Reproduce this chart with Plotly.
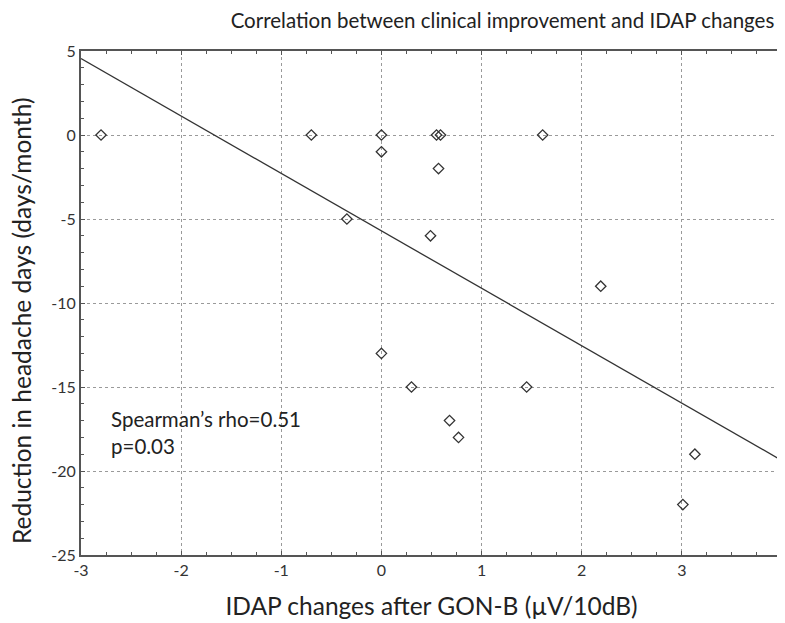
import numpy as np
import plotly.graph_objects as go

idap_change = [-2.80, -0.70, -0.345, 0.0, 0.0, 0.55, 0.59, 0.57, 1.61, 0.49,
               0.0, 0.30, 1.45, 0.68, 0.77, 2.19, 3.13, 3.01]
headache_reduction = [0, 0, -5, 0, -1, 0, 0, -2, 0, -6,
                      -13, -15, -15, -17, -18, -9, -19, -22]
x_ticks = [-3, -2, -1, 0, 1, 2, 3]
x_ticklabels = ["-3", "-2", "-1", "0", "1", "2", "3"]
y_ticks = [5, 0, -5, -10, -15, -20, -25]
y_ticklabels = ["5", "0", "-5", "-10", "-15", "-20", "-25"]
x_range = [-3, 4]
y_range = [-25, 5]

slope, intercept = np.polyfit(idap_change, headache_reduction, 1)
fit_x = np.array(x_range, dtype=float)
fit_y = slope * fit_x + intercept

FONT = "Lato"
W, H = 777, 615
ML, MR, MT, MB = 73, 3, 43, 68

fig = go.Figure()
fig.add_trace(go.Scatter(x=fit_x, y=fit_y, mode="lines",
                         line=dict(color="#333333", width=1.3),
                         hoverinfo="skip", showlegend=False))
fig.add_trace(go.Scatter(x=idap_change, y=headache_reduction, mode="markers",
                         marker=dict(symbol="diamond-open", size=8,
                                     color="#333333", line=dict(width=1.3)),
                         showlegend=False))

axis_common = dict(
    showgrid=True, gridcolor="#9a9a9a", griddash="dot", gridwidth=1,
    zeroline=False, showline=True, linecolor="#555555", linewidth=2,
    mirror="allticks", ticks="inside", ticklen=4, tickcolor="#555555",
    tickfont=dict(family=FONT, size=16, color="#333333"),
    automargin=False,
)

fig.update_xaxes(range=x_range, tickvals=x_ticks, ticktext=x_ticklabels,
                 minor=dict(dtick=0.25, ticks="inside", ticklen=3, tickcolor="#555555", showgrid=False),
                 title=dict(text="IDAP changes after GON-B (µV/10dB)",
                            font=dict(family=FONT, size=24.5, color="#222222"),
                            standoff=20),
                 **axis_common)
fig.update_yaxes(range=y_range, tickvals=y_ticks, ticktext=y_ticklabels,
                 minor=dict(dtick=1, ticks="inside", ticklen=3, tickcolor="#555555", showgrid=False),
                 **axis_common)

pw, ph = W - ML - MR, H - MT - MB
fig.add_annotation(x=(13 - ML) / pw, y=1 - (313 - MT) / ph, xref="paper", yref="paper",
                   xanchor="center", yanchor="middle", textangle=-90,
                   text="Reduction in headache days (days/month)", showarrow=False,
                   font=dict(family=FONT, size=24.5, color="#222222"))

fig.add_annotation(x=-2.72, y=-17.7, xref="x", yref="y", xanchor="left", yanchor="middle",
                   text="Spearman’s rho=0.51<br>p=0.03", showarrow=False, align="left",
                   font=dict(family=FONT, size=20.5, color="#222222"))

fig.update_layout(
    width=W, height=H,
    paper_bgcolor="white", plot_bgcolor="white",
    margin=dict(l=ML, r=MR, t=MT, b=MB, autoexpand=False),
    title=dict(text="Correlation between clinical improvement and IDAP changes",
               x=0.6364, xanchor="center", y=1 - 13 / H, yanchor="middle",
               font=dict(family=FONT, size=20.5, color="#222222")),
)

fig.write_html("out.html")
